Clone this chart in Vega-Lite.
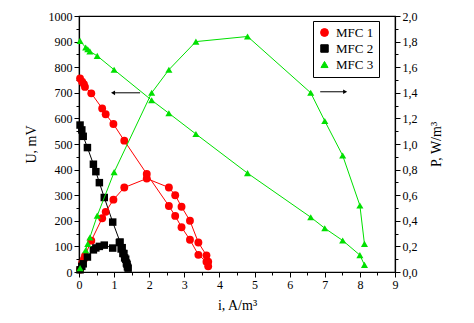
{
  "$schema": "https://vega.github.io/schema/vega-lite/v6.json",
  "width": 316,
  "height": 256,
  "autosize": "none",
  "padding": {"left": 79, "top": 16, "right": 79, "bottom": 51},
  "background": "white",
  "config": {
    "view": {"stroke": "black", "strokeWidth": 1.2},
    "font": "Liberation Serif",
    "axis": {
      "domainColor": "black", "domainWidth": 1.2, "tickColor": "black", "tickWidth": 1,
      "labelColor": "black", "titleColor": "black", "labelFont": "Liberation Serif",
      "titleFont": "Liberation Serif", "labelFontSize": 12, "titleFontSize": 14,
      "titleFontWeight": "normal", "grid": false
    }
  },
  "datasets": {
    "main": [
      {"s": "MFC 1", "c": "U", "i": 0.03, "v": 756}, {"s": "MFC 1", "c": "U", "i": 0.09, "v": 743},
      {"s": "MFC 1", "c": "U", "i": 0.14, "v": 734}, {"s": "MFC 1", "c": "U", "i": 0.17, "v": 723},
      {"s": "MFC 1", "c": "U", "i": 0.35, "v": 698}, {"s": "MFC 1", "c": "U", "i": 0.66, "v": 639},
      {"s": "MFC 1", "c": "U", "i": 0.76, "v": 616}, {"s": "MFC 1", "c": "U", "i": 0.98, "v": 578},
      {"s": "MFC 1", "c": "U", "i": 1.29, "v": 513}, {"s": "MFC 1", "c": "U", "i": 1.93, "v": 383},
      {"s": "MFC 1", "c": "U", "i": 2.56, "v": 258}, {"s": "MFC 1", "c": "U", "i": 2.74, "v": 219},
      {"s": "MFC 1", "c": "U", "i": 2.92, "v": 175}, {"s": "MFC 1", "c": "U", "i": 3.16, "v": 126},
      {"s": "MFC 1", "c": "U", "i": 3.4, "v": 67}, {"s": "MFC 1", "c": "U", "i": 3.63, "v": 40},
      {"s": "MFC 1", "c": "U", "i": 3.68, "v": 22},
      {"s": "MFC 1", "c": "P", "i": 0.03, "v": 0.02}, {"s": "MFC 1", "c": "P", "i": 0.09, "v": 0.07},
      {"s": "MFC 1", "c": "P", "i": 0.14, "v": 0.1}, {"s": "MFC 1", "c": "P", "i": 0.17, "v": 0.125},
      {"s": "MFC 1", "c": "P", "i": 0.35, "v": 0.245}, {"s": "MFC 1", "c": "P", "i": 0.66, "v": 0.42},
      {"s": "MFC 1", "c": "P", "i": 0.76, "v": 0.47}, {"s": "MFC 1", "c": "P", "i": 0.98, "v": 0.565},
      {"s": "MFC 1", "c": "P", "i": 1.29, "v": 0.66}, {"s": "MFC 1", "c": "P", "i": 1.93, "v": 0.73},
      {"s": "MFC 1", "c": "P", "i": 2.56, "v": 0.66}, {"s": "MFC 1", "c": "P", "i": 2.74, "v": 0.6},
      {"s": "MFC 1", "c": "P", "i": 2.92, "v": 0.51}, {"s": "MFC 1", "c": "P", "i": 3.16, "v": 0.4},
      {"s": "MFC 1", "c": "P", "i": 3.4, "v": 0.23}, {"s": "MFC 1", "c": "P", "i": 3.63, "v": 0.13},
      {"s": "MFC 1", "c": "P", "i": 3.68, "v": 0.08},
      {"s": "MFC 2", "c": "U", "i": 0.03, "v": 574}, {"s": "MFC 2", "c": "U", "i": 0.08, "v": 555},
      {"s": "MFC 2", "c": "U", "i": 0.12, "v": 530}, {"s": "MFC 2", "c": "U", "i": 0.24, "v": 486},
      {"s": "MFC 2", "c": "U", "i": 0.41, "v": 421}, {"s": "MFC 2", "c": "U", "i": 0.48, "v": 392},
      {"s": "MFC 2", "c": "U", "i": 0.58, "v": 349}, {"s": "MFC 2", "c": "U", "i": 0.72, "v": 291},
      {"s": "MFC 2", "c": "U", "i": 0.96, "v": 195}, {"s": "MFC 2", "c": "U", "i": 1.17, "v": 117},
      {"s": "MFC 2", "c": "U", "i": 1.23, "v": 95}, {"s": "MFC 2", "c": "U", "i": 1.28, "v": 72},
      {"s": "MFC 2", "c": "U", "i": 1.33, "v": 50}, {"s": "MFC 2", "c": "U", "i": 1.37, "v": 30},
      {"s": "MFC 2", "c": "U", "i": 1.4, "v": 15},
      {"s": "MFC 2", "c": "P", "i": 0.03, "v": 0.017}, {"s": "MFC 2", "c": "P", "i": 0.08, "v": 0.044},
      {"s": "MFC 2", "c": "P", "i": 0.12, "v": 0.064}, {"s": "MFC 2", "c": "P", "i": 0.24, "v": 0.117},
      {"s": "MFC 2", "c": "P", "i": 0.41, "v": 0.173}, {"s": "MFC 2", "c": "P", "i": 0.48, "v": 0.188},
      {"s": "MFC 2", "c": "P", "i": 0.58, "v": 0.2}, {"s": "MFC 2", "c": "P", "i": 0.72, "v": 0.21},
      {"s": "MFC 2", "c": "P", "i": 0.96, "v": 0.187}, {"s": "MFC 2", "c": "P", "i": 1.15, "v": 0.23},
      {"s": "MFC 2", "c": "P", "i": 1.2, "v": 0.18}, {"s": "MFC 2", "c": "P", "i": 1.25, "v": 0.145},
      {"s": "MFC 2", "c": "P", "i": 1.3, "v": 0.11}, {"s": "MFC 2", "c": "P", "i": 1.35, "v": 0.07},
      {"s": "MFC 2", "c": "P", "i": 1.38, "v": 0.04},
      {"s": "MFC 3", "c": "U", "i": 0.03, "v": 903}, {"s": "MFC 3", "c": "U", "i": 0.19, "v": 877},
      {"s": "MFC 3", "c": "U", "i": 0.25, "v": 870}, {"s": "MFC 3", "c": "U", "i": 0.31, "v": 862},
      {"s": "MFC 3", "c": "U", "i": 0.52, "v": 844}, {"s": "MFC 3", "c": "U", "i": 1.0, "v": 790},
      {"s": "MFC 3", "c": "U", "i": 2.07, "v": 671}, {"s": "MFC 3", "c": "U", "i": 2.56, "v": 620},
      {"s": "MFC 3", "c": "U", "i": 3.33, "v": 539}, {"s": "MFC 3", "c": "U", "i": 4.8, "v": 386},
      {"s": "MFC 3", "c": "U", "i": 6.6, "v": 214}, {"s": "MFC 3", "c": "U", "i": 7.0, "v": 171},
      {"s": "MFC 3", "c": "U", "i": 7.51, "v": 123}, {"s": "MFC 3", "c": "U", "i": 8.0, "v": 66},
      {"s": "MFC 3", "c": "U", "i": 8.13, "v": 28},
      {"s": "MFC 3", "c": "P", "i": 0.03, "v": 0.03}, {"s": "MFC 3", "c": "P", "i": 0.19, "v": 0.17},
      {"s": "MFC 3", "c": "P", "i": 0.25, "v": 0.22}, {"s": "MFC 3", "c": "P", "i": 0.31, "v": 0.27},
      {"s": "MFC 3", "c": "P", "i": 0.52, "v": 0.44}, {"s": "MFC 3", "c": "P", "i": 1.0, "v": 0.78},
      {"s": "MFC 3", "c": "P", "i": 2.07, "v": 1.4}, {"s": "MFC 3", "c": "P", "i": 2.56, "v": 1.58},
      {"s": "MFC 3", "c": "P", "i": 3.33, "v": 1.8}, {"s": "MFC 3", "c": "P", "i": 4.8, "v": 1.84},
      {"s": "MFC 3", "c": "P", "i": 6.6, "v": 1.4}, {"s": "MFC 3", "c": "P", "i": 7.0, "v": 1.18},
      {"s": "MFC 3", "c": "P", "i": 7.51, "v": 0.91}, {"s": "MFC 3", "c": "P", "i": 8.0, "v": 0.52},
      {"s": "MFC 3", "c": "P", "i": 8.13, "v": 0.22}
    ],
    "arrows": [
      {"i": 0.97, "i2": 1.74, "v": 700, "k": "left"},
      {"i": 6.87, "i2": 7.58, "v": 704, "k": "right"}
    ],
    "headL": [{"i": 0.97, "v": 700}],
    "headR": [{"i": 7.58, "v": 704}]
  },
  "encoding": {
    "x": {
      "field": "i", "type": "quantitative",
      "scale": {"domain": [0, 9], "nice": false, "zero": false},
      "axis": {
        "title": "i, A/m³",
        "values": [0, 0.5, 1, 1.5, 2, 2.5, 3, 3.5, 4, 4.5, 5, 5.5, 6, 6.5, 7, 7.5, 8, 8.5, 9],
        "labelExpr": "datum.value % 1 === 0 ? datum.value : ''",
        "tickSize": {"condition": {"test": "datum.value % 1 === 0", "value": 5}, "value": 3},
        "labelPadding": 2, "titlePadding": 8, "labelFlush": false
      }
    }
  },
  "layer": [
    {
      "encoding": {
        "y": {
          "field": "v", "type": "quantitative",
          "scale": {"domain": [0, 1000], "nice": false},
          "axis": {
            "orient": "left", "title": "U, mV",
            "values": [0, 50, 100, 150, 200, 250, 300, 350, 400, 450, 500, 550, 600, 650, 700, 750, 800, 850, 900, 950, 1000],
            "labelExpr": "datum.value % 100 === 0 ? datum.value : ''",
            "tickSize": {"condition": {"test": "datum.value % 100 === 0", "value": 5}, "value": 3},
            "labelPadding": 2, "titlePadding": 10, "labelFlush": false
          }
        }
      },
      "layer": [
        {
          "data": {"name": "main"},
          "transform": [{"filter": "datum.c === 'U'"}],
          "mark": {"type": "line", "strokeWidth": 1},
          "encoding": {
            "color": {"field": "s", "type": "nominal", "legend": null},
            "detail": {"field": "s"}
          }
        },
        {
          "data": {"name": "main"},
          "transform": [{"filter": "datum.c === 'U'"}],
          "mark": {"type": "point", "filled": true, "opacity": 1},
          "encoding": {
            "color": {
              "field": "s", "type": "nominal",
              "scale": {"domain": ["MFC 1", "MFC 2", "MFC 3"], "range": ["#ff0000", "#000000", "#00e000"]},
              "legend": {
                "title": null, "orient": "none", "legendX": 234, "legendY": 5,
                "strokeColor": "black", "fillColor": "white", "padding": 5,
                "labelFont": "Liberation Serif", "labelFontSize": 13, "labelColor": "black",
                "symbolSize": 729, "symbolStrokeWidth": 1, "labelOffset": 5, "rowPadding": 2,
                "encoding": {
                  "symbols": {
                    "shape": {
                      "condition": [
                        {"test": "datum.value === 'MFC 1'", "value": "M-1,0H1M0.28,0A0.28,0.28,0,1,1,-0.28,0A0.28,0.28,0,1,1,0.28,0Z"},
                        {"test": "datum.value === 'MFC 2'", "value": "M-1,0H1M-0.24,-0.24H0.24V0.24H-0.24Z"}
                      ],
                      "value": "M-1,0H1M0,-0.32L0.34,0.26H-0.34Z"
                    },
                    "stroke": {
                      "condition": [
                        {"test": "datum.value === 'MFC 1'", "value": "#ff0000"},
                        {"test": "datum.value === 'MFC 2'", "value": "#000000"}
                      ],
                      "value": "#00e000"
                    },
                    "size": {"value": 729},
                    "strokeWidth": {"value": 1},
                    "opacity": {"value": 1}
                  }
                }
              }
            },
            "shape": {"field": "s", "type": "nominal", "scale": {"domain": ["MFC 1", "MFC 2", "MFC 3"], "range": ["circle", "square", "triangle-up"]}, "legend": null},
            "size": {"field": "s", "type": "nominal", "scale": {"domain": ["MFC 1", "MFC 2", "MFC 3"], "range": [62, 50, 140]}, "legend": null}
          }
        },
        {
          "data": {"name": "arrows"},
          "mark": {"type": "rule", "color": "black", "strokeWidth": 1},
          "encoding": {"x2": {"field": "i2"}}
        },
        {
          "data": {"name": "headL"},
          "mark": {"type": "point", "shape": "triangle-left", "filled": true, "color": "black", "size": 22, "opacity": 1}
        },
        {
          "data": {"name": "headR"},
          "mark": {"type": "point", "shape": "triangle-right", "filled": true, "color": "black", "size": 22, "opacity": 1}
        }
      ],
      "resolve": {"legend": {"color": "independent", "shape": "independent", "size": "independent"}}
    },
    {
      "encoding": {
        "y": {
          "field": "v", "type": "quantitative",
          "scale": {"domain": [0, 2], "nice": false},
          "axis": {
            "orient": "right", "title": "P, W/m³", "titleAngle": 270, "titleBaseline": "top",
            "values": [0, 0.1, 0.2, 0.3, 0.4, 0.5, 0.6, 0.7, 0.8, 0.9, 1.0, 1.1, 1.2, 1.3, 1.4, 1.5, 1.6, 1.7, 1.8, 1.9, 2.0],
            "labelExpr": "round(datum.value * 10) % 2 === 0 ? replace(format(datum.value, '.1f'), '.', ',') : ''",
            "tickSize": {"condition": {"test": "round(datum.value * 10) % 2 === 0", "value": 5}, "value": 3},
            "labelPadding": 2, "titlePadding": 12, "labelFlush": false
          }
        }
      },
      "layer": [
        {
          "data": {"name": "main"},
          "transform": [{"filter": "datum.c === 'P'"}],
          "mark": {"type": "line", "strokeWidth": 1},
          "encoding": {
            "color": {"field": "s", "type": "nominal", "legend": null},
            "detail": {"field": "s"}
          }
        },
        {
          "data": {"name": "main"},
          "transform": [{"filter": "datum.c === 'P'"}],
          "mark": {"type": "point", "filled": true, "opacity": 1},
          "encoding": {
            "color": {"field": "s", "type": "nominal", "legend": null},
            "shape": {"field": "s", "type": "nominal", "legend": null},
            "size": {"field": "s", "type": "nominal", "legend": null}
          }
        }
      ],
      "resolve": {"legend": {"color": "independent", "shape": "independent", "size": "independent"}}
    }
  ],
  "resolve": {"scale": {"y": "independent"}, "legend": {"color": "independent", "shape": "independent", "size": "independent"}}
}
